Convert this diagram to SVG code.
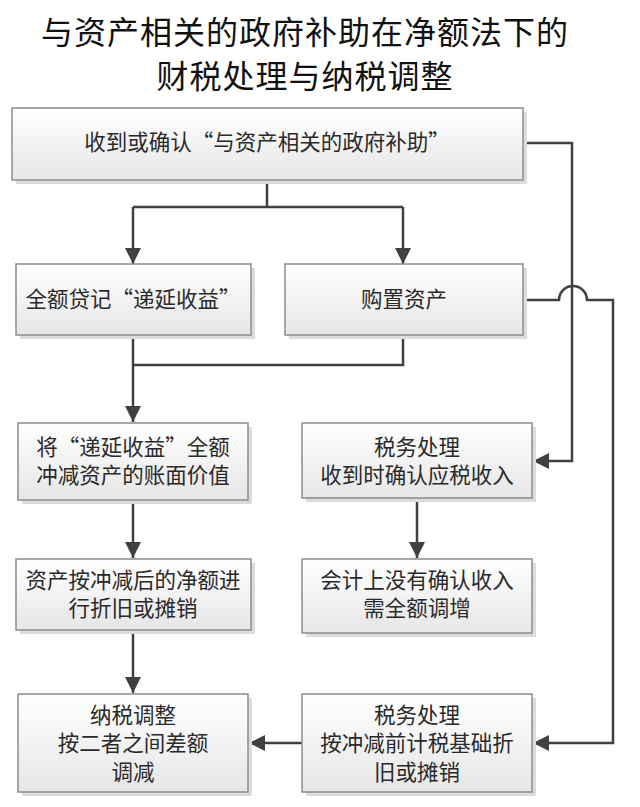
<svg xmlns="http://www.w3.org/2000/svg" width="640" height="807" viewBox="0 0 640 807">
<defs>
<linearGradient id="g" x1="0" y1="0" x2="0" y2="1">
<stop offset="0" stop-color="#ffffff"/>
<stop offset="1" stop-color="#e6e6e6"/>
</linearGradient>
<marker id="a" markerUnits="userSpaceOnUse" markerWidth="17" markerHeight="16" refX="16" refY="8" orient="auto">
<path d="M0,0 L16,8 L0,16 Z" fill="#404040"/>
</marker>
</defs>
<style>
.sh{fill:#dcdcdc;}
.bx{fill:url(#g);stroke:#8c8c8c;stroke-width:1.5;}
.t{font-family:"Noto Sans CJK SC","Noto Sans",sans-serif;font-size:21.5px;fill:#2a2a2a;text-anchor:middle;}
.title{font-family:"Noto Sans CJK SC","Noto Sans",sans-serif;font-size:32px;letter-spacing:1px;fill:#111;text-anchor:middle;}
.c{fill:none;stroke:#404040;stroke-width:2.5;}
</style>
<rect width="640" height="807" fill="#ffffff"/>
<text class="title" x="305" y="44">与资产相关的政府补助在净额法下的</text>
<text class="title" x="305" y="88">财税处理与纳税调整</text>
<g id="connectors">
<path class="c" d="M267,180 V207 M133,207 H403"/>
<path class="c" d="M133,207 V264" marker-end="url(#a)"/>
<path class="c" d="M403,207 V264" marker-end="url(#a)"/>
<path class="c" d="M403,335 V365 H133"/>
<path class="c" d="M133,335 V422" marker-end="url(#a)"/>
<path class="c" d="M523,143 H572 V461 H533" marker-end="url(#a)"/>
<path class="c" d="M523,300 H559 A14,14 0 0 1 587,300 H613 V743 H533" marker-end="url(#a)"/>
<path class="c" d="M133,500 V558" marker-end="url(#a)"/>
<path class="c" d="M417,498 V558" marker-end="url(#a)"/>
<path class="c" d="M133,630 V693" marker-end="url(#a)"/>
<path class="c" d="M302,743 H249" marker-end="url(#a)"/>
</g>
<g id="n1">
<rect class="sh" x="16" y="112" width="511" height="72"/>
<rect class="bx" x="12" y="108" width="511" height="72"/>
<text class="t" x="267" y="150">收到或确认“与资产相关的政府补助”</text>
</g>
<g id="n2">
<rect class="sh" x="20" y="268" width="235" height="71"/>
<rect class="bx" x="16" y="264" width="235" height="71"/>
<text class="t" x="133" y="307">全额贷记“递延收益”</text>
</g>
<g id="n3">
<rect class="sh" x="289" y="268" width="238" height="71"/>
<rect class="bx" x="285" y="264" width="238" height="71"/>
<text class="t" x="404" y="307">购置资产</text>
</g>
<g id="n4">
<rect class="sh" x="22" y="427" width="230" height="77"/>
<rect class="bx" x="18" y="423" width="230" height="77"/>
<text class="t" x="133" y="454.5">将“递延收益”全额</text>
<text class="t" x="133" y="483">冲减资产的账面价值</text>
</g>
<g id="n5">
<rect class="sh" x="306" y="427" width="230" height="75"/>
<rect class="bx" x="302" y="423" width="230" height="75"/>
<text class="t" x="417" y="454.5">税务处理</text>
<text class="t" x="417" y="483">收到时确认应税收入</text>
</g>
<g id="n6">
<rect class="sh" x="20" y="563" width="235" height="71"/>
<rect class="bx" x="16" y="559" width="235" height="71"/>
<text class="t" x="133" y="587.5">资产按冲减后的净额进</text>
<text class="t" x="133" y="616">行折旧或摊销</text>
</g>
<g id="n7">
<rect class="sh" x="306" y="563" width="230" height="74"/>
<rect class="bx" x="302" y="559" width="230" height="74"/>
<text class="t" x="417" y="587.5">会计上没有确认收入</text>
<text class="t" x="417" y="616">需全额调增</text>
</g>
<g id="n8">
<rect class="sh" x="22" y="698" width="230" height="98"/>
<rect class="bx" x="18" y="694" width="230" height="98"/>
<text class="t" x="133" y="722.5">纳税调整</text>
<text class="t" x="133" y="751">按二者之间差额</text>
<text class="t" x="133" y="779.5">调减</text>
</g>
<g id="n9">
<rect class="sh" x="306" y="698" width="230" height="98"/>
<rect class="bx" x="302" y="694" width="230" height="98"/>
<text class="t" x="417" y="722.5">税务处理</text>
<text class="t" x="417" y="751">按冲减前计税基础折</text>
<text class="t" x="417" y="779.5">旧或摊销</text>
</g>
</svg>
